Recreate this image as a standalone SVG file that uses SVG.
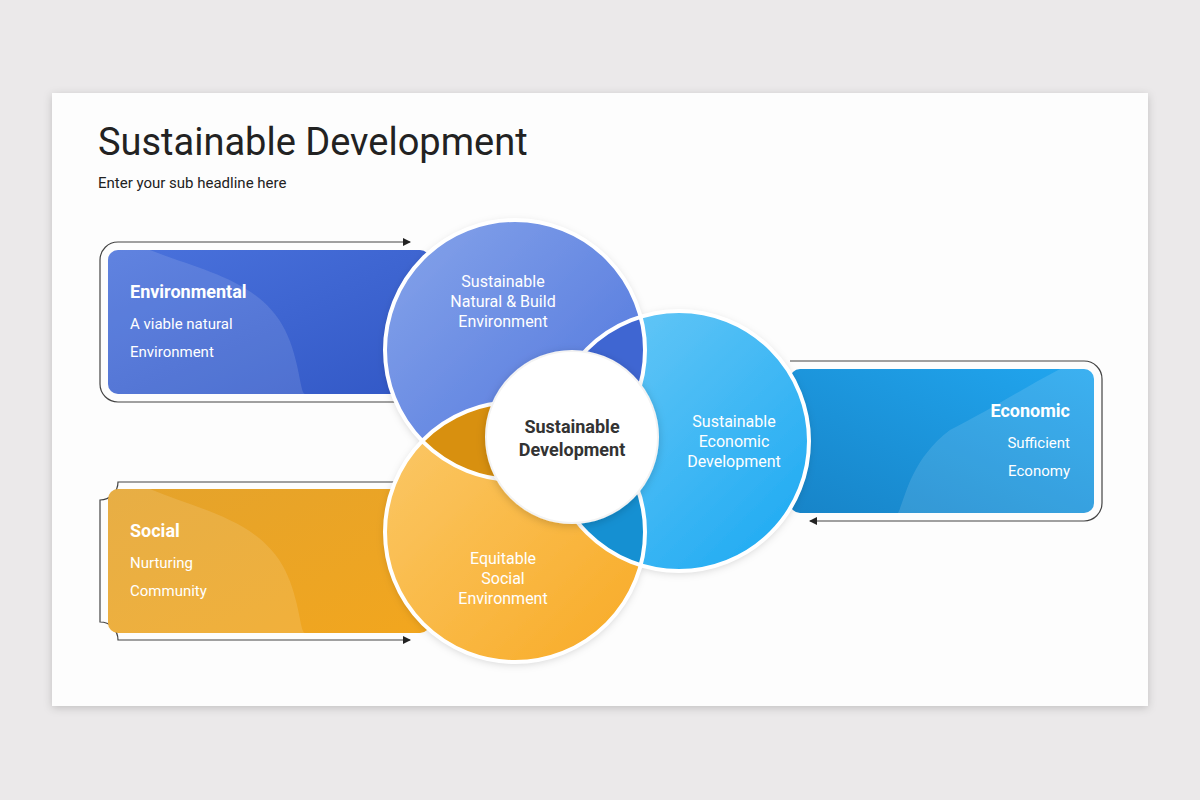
<svg xmlns="http://www.w3.org/2000/svg" width="1200" height="800" viewBox="0 0 1200 800">
<defs>
<style>
text{font-family:Roboto,"Liberation Sans",sans-serif}
.t{fill:#fff;font-size:18px;font-weight:bold}
.s{fill:#fff;font-size:15px}
.c{fill:#fff;font-size:16px;text-anchor:middle}
.line{fill:none;stroke:#444;stroke-width:1.2}
</style>
<filter id="sh" x="-10%" y="-10%" width="120%" height="120%"><feDropShadow dx="0" dy="2" stdDeviation="4" flood-color="#000" flood-opacity="0.18"/></filter>
<marker id="ar" markerWidth="8" markerHeight="8" refX="7" refY="4" orient="auto" markerUnits="userSpaceOnUse"><path d="M0,0L8,4L0,8z" fill="#222"/></marker>
<linearGradient id="gb" x1="0" y1="0" x2="1" y2="1"><stop offset="0" stop-color="#4a72dc"/><stop offset="1" stop-color="#3258c6"/></linearGradient>
<linearGradient id="go" x1="0" y1="0" x2="1" y2="1"><stop offset="0" stop-color="#e4a32c"/><stop offset="1" stop-color="#f2a61e"/></linearGradient>
<linearGradient id="gs" x1="1" y1="0" x2="0" y2="1"><stop offset="0" stop-color="#21a6ef"/><stop offset="1" stop-color="#1784c8"/></linearGradient>
<linearGradient id="cb" x1="0" y1="0" x2="1" y2="1"><stop offset="0" stop-color="#86a4ea"/><stop offset="1" stop-color="#4c72dc"/></linearGradient>
<linearGradient id="co" x1="0" y1="0" x2="1" y2="1"><stop offset="0" stop-color="#fbc96a"/><stop offset="1" stop-color="#f8aa24"/></linearGradient>
<linearGradient id="cs" x1="0" y1="0" x2="1" y2="1"><stop offset="0" stop-color="#6fcbf7"/><stop offset="1" stop-color="#19a8f2"/></linearGradient>
<clipPath id="kB"><circle cx="515" cy="350" r="130"/></clipPath>
<clipPath id="kO"><circle cx="515" cy="532" r="130"/></clipPath>
<clipPath id="kEnv"><rect x="108" y="250" width="322" height="144" rx="10"/></clipPath>
<clipPath id="kSoc"><rect x="108" y="489" width="322" height="144" rx="10"/></clipPath>
<clipPath id="kEco"><rect x="790" y="369" width="304" height="144" rx="10"/></clipPath>
</defs>
<rect width="1200" height="800" fill="#ebe9ea"/>
<rect x="52" y="93" width="1096" height="613" fill="#fdfdfd" filter="url(#sh)"/>
<text x="98" y="155" font-size="38" fill="#222">Sustainable Development</text>
<text x="98" y="188" font-size="15" fill="#222">Enter your sub headline here</text>

<g id="connectors">
<path class="line" d="M395,402 H118 A18,18 0 0 1 100,384 V260 A18,18 0 0 1 118,242 H410" marker-end="url(#ar)"/>
<path class="line" d="M395,482 H118 A18,18 0 0 1 100,500 V622 A18,18 0 0 1 118,640 H410" marker-end="url(#ar)"/>
<path class="line" d="M790,361 H1084 A18,18 0 0 1 1102,379 V503 A18,18 0 0 1 1084,521 H810" marker-end="url(#ar)"/>
</g>

<g id="environmental">
<rect x="108" y="250" width="322" height="144" rx="10" fill="url(#gb)"/>
<path clip-path="url(#kEnv)" d="M108,250 H150 C200,270 260,280 285,330 C300,360 300,394 305,394 H108Z" fill="#fff" opacity="0.12"/>
<text x="130" y="298" class="t">Environmental</text>
<text x="130" y="329" class="s">A viable natural</text>
<text x="130" y="357" class="s">Environment</text>
</g>
<g id="social">
<rect x="108" y="489" width="322" height="144" rx="10" fill="url(#go)"/>
<path clip-path="url(#kSoc)" d="M108,489 H150 C200,510 260,520 285,570 C300,600 300,633 305,633 H108Z" fill="#fff" opacity="0.12"/>
<text x="130" y="537" class="t">Social</text>
<text x="130" y="568" class="s">Nurturing</text>
<text x="130" y="596" class="s">Community</text>
</g>
<g id="economic">
<rect x="790" y="369" width="304" height="144" rx="10" fill="url(#gs)"/>
<path clip-path="url(#kEco)" d="M1094,369 H1060 C1020,390 990,410 950,430 C910,460 905,500 898,513 H1094Z" fill="#fff" opacity="0.12"/>
<text x="1070" y="417" class="t" text-anchor="end">Economic</text>
<text x="1070" y="448" class="s" text-anchor="end">Sufficient</text>
<text x="1070" y="476" class="s" text-anchor="end">Economy</text>
</g>

<g id="circles" filter="url(#sh)">
<circle cx="679" cy="441" r="130" fill="url(#cs)"/>
<circle cx="515" cy="350" r="130" fill="url(#cb)"/>
<circle cx="515" cy="532" r="130" fill="url(#co)"/>
</g>
<g id="lenses">
<circle cx="679" cy="441" r="130" fill="#3f66d2" clip-path="url(#kB)"/>
<circle cx="679" cy="441" r="130" fill="#1590d2" clip-path="url(#kO)"/>
<circle cx="515" cy="532" r="130" fill="#d8900f" clip-path="url(#kB)"/>
<g fill="none" stroke="#fff" stroke-width="4">
<circle cx="679" cy="441" r="130"/>
<circle cx="515" cy="350" r="130"/>
<circle cx="515" cy="532" r="130"/>
</g>
</g>
<g id="labels">
<text x="503" y="287" class="c">Sustainable</text>
<text x="503" y="307" class="c">Natural &amp; Build</text>
<text x="503" y="327" class="c">Environment</text>
<text x="734" y="427" class="c">Sustainable</text>
<text x="734" y="447" class="c">Economic</text>
<text x="734" y="467" class="c">Development</text>
<text x="503" y="564" class="c">Equitable</text>
<text x="503" y="584" class="c">Social</text>
<text x="503" y="604" class="c">Environment</text>
</g>
<g id="center">
<circle cx="572" cy="437" r="86" fill="#fff" stroke="#f3f3f3" stroke-width="2" filter="url(#sh)"/>
<text x="572" y="433" font-size="18" font-weight="bold" fill="#333" text-anchor="middle">Sustainable</text>
<text x="572" y="456" font-size="18" font-weight="bold" fill="#333" text-anchor="middle">Development</text>
</g>
</svg>
